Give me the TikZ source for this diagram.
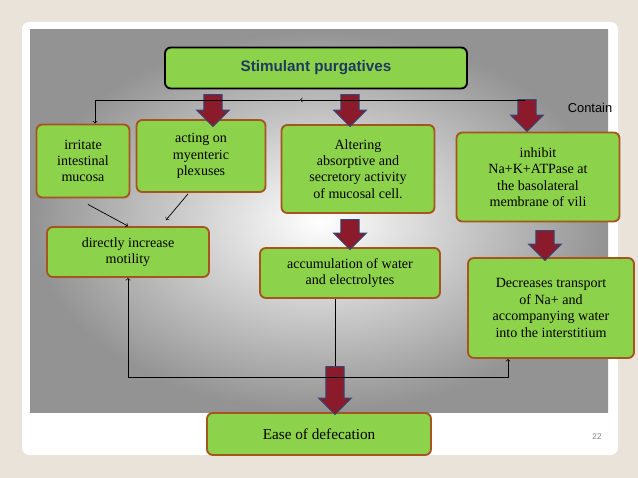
\documentclass[tikz,border=0pt]{standalone}
\usepackage{fontspec}
\setmainfont{Liberation Serif}
\newfontfamily\sansf{Liberation Sans}
\usetikzlibrary{positioning,calc,shapes.arrows}
\definecolor{pagebg}{HTML}{E9E3D9}
\definecolor{boxgreen}{HTML}{8CD24A}
\definecolor{boxedge}{HTML}{A4561E}
\definecolor{bigred}{HTML}{8B1A2B}
\definecolor{bigedge}{HTML}{2E4A7A}
\definecolor{titletext}{HTML}{1F3A5F}
\tikzset{
  box/.style={draw=boxedge,line width=1.6pt,fill=boxgreen,rounded corners=5pt,align=center,inner sep=1pt,font=\fontsize{12}{14}\selectfont},
  bigarrow/.style={single arrow,draw=bigedge,fill=bigred,line width=0.8pt,shape border rotate=270,minimum width=28pt,single arrow head extend=6pt,single arrow tip angle=90,inner xsep=7pt,inner ysep=0pt},
  thin/.style={draw,line width=0.6pt},
}
\begin{document}
\begin{tikzpicture}[x=0.03cm,y=-0.03cm]
  % page and panel
  \fill[pagebg] (0,0) rectangle (638,478);
  \fill[white,rounded corners=6pt] (22,22) rectangle (618,455);
  \shade[inner color=white,outer color=gray!85] (30,30) rectangle (608,412);
  % boxes
  \node[box,draw=black,minimum width=302*0.03cm,minimum height=41*0.03cm,font=\sansf\bfseries\fontsize{13}{15}\selectfont,text=titletext] (title) at (316,68) {Stimulant purgatives};
  \node[box,minimum width=93*0.03cm,minimum height=73*0.03cm] (irritate) at (83,161) {irritate\\intestinal\\mucosa};
  \node[box,minimum width=129*0.03cm,minimum height=72*0.03cm] (acting) at (201,156) {acting on\\myenteric\\plexuses};
  \node[box,minimum width=153*0.03cm,minimum height=88*0.03cm] (alter) at (358,169) {Altering\\absorptive and\\secretory activity\\of mucosal cell.};
  \node[box,minimum width=163*0.03cm,minimum height=89*0.03cm] (inhibit) at (538,177) {inhibit\\Na+K+ATPase at\\the basolateral\\membrane of vili};
  \node[box,minimum width=162*0.03cm,minimum height=50*0.03cm] (motility) at (128,252) {directly increase\\motility};
  \node[box,minimum width=180*0.03cm,minimum height=50*0.03cm] (accum) at (350,273) {accumulation of water\\and electrolytes};
  \node[box,minimum width=166*0.03cm,minimum height=100*0.03cm] (decr) at (551,308) {Decreases transport\\of Na+ and\\accompanying water\\into the interstitium};
  \node[box,minimum width=224*0.03cm,minimum height=42*0.03cm,font=\fontsize{13}{15}\selectfont] (ease) at (319,434) {Ease of defecation};
  \node[font=\sansf\fontsize{11}{13}\selectfont] (contain) at (590,108) {Contain};
  \node[font=\sansf\fontsize{7}{8}\selectfont,text=gray] (pnum) at (597,437) {22};
  % big arrows
  \node[bigarrow,minimum height=32*0.03cm] (a1) at (213,106) {};
  \node[bigarrow,minimum height=32*0.03cm] (a2) at (350,106) {};
  \node[bigarrow,minimum height=32*0.03cm] (a3) at (527,111) {};
  \node[bigarrow,minimum height=30*0.03cm] (a4) at (350,230) {};
  \node[bigarrow,minimum height=30*0.03cm] (a5) at (545,241) {};
  \node[bigarrow,minimum height=48*0.03cm] (a6) at (335,386) {};
  % thin connectors
  \coordinate (tl) at (95,100);
  \coordinate (tr) at (525,100);
  \coordinate (tm) at (300,100);
  \coordinate (bl) at (128,377);
  \coordinate (br) at (508,377);
  \draw[thin,->] (tr) -- (tm);
  \draw[thin,->] (tm) -- (tl) -- (irritate.north -| tl);
  \draw[thin,->] (irritate.south) ++(5,6) -- (motility.north);
  \draw[thin,->] (acting.south) ++(-13,1) -- ($(motility.north east)+(-44,-6)$);
  \draw[thin] (accum.south -| a6) -- (a6.north);
  \draw[thin,->] (bl) -- (motility.south -| bl);
  \draw[thin,->] (bl) -- (br) -- (decr.south -| br);
\end{tikzpicture}
\end{document}
